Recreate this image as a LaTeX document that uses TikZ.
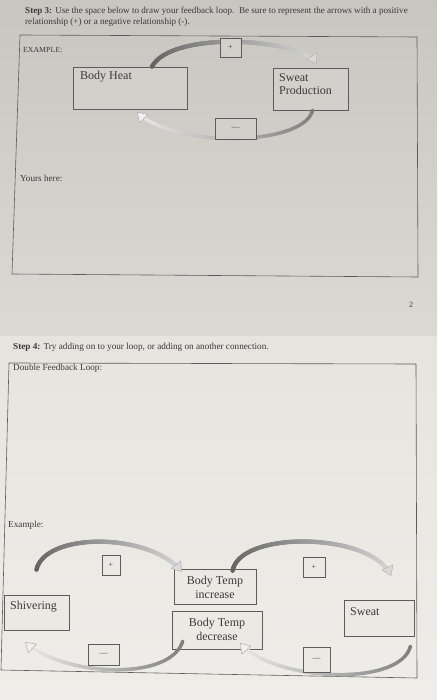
\documentclass[tikz,border=0pt]{standalone}
\usepackage{fontspec}
\setmainfont{Liberation Serif}
\usetikzlibrary{arrows.meta,calc,decorations.markings}
\definecolor{ink}{HTML}{3C3A38}
\definecolor{frame}{HTML}{5E5C5A}
\definecolor{papertopA}{HTML}{C9C5C1}
\definecolor{papertopB}{HTML}{DCD8D3}
\definecolor{paperbotA}{HTML}{E7E4DF}
\definecolor{paperbotB}{HTML}{EFEDE9}
\definecolor{boxtop}{HTML}{D3CFCA}
\definecolor{boxbot}{HTML}{ECE9E5}
% arrow head: #1 tip, #2 second control point, #3 style
\newcommand\fbhead[3]{%
  \filldraw[#3] (#1) -- ($(#1)!9pt!(#2)!6pt!90:(#1)$) -- ($(#1)!9pt!(#2)!6pt!-90:(#1)$) -- cycle;}
\begin{document}
\begin{tikzpicture}[x=1pt,y=-1pt,
  txt/.style={text=ink, inner sep=0pt, anchor=base west},
  boxtxt/.style={txt, font=\fontsize{12}{14}\selectfont},
  panel/.style={draw=frame, line width=0.6pt},
  box/.style={draw=frame, line width=0.7pt, inner sep=0pt},
  sign/.style={box, text=ink, font=\fontsize{8}{9}\selectfont},
  headdark/.style={fill=gray!30, draw=gray!60, line width=0.5pt, line join=round},
  headlight/.style={fill=white!88!gray, draw=gray!65, line width=0.5pt, line join=round},
  fb/.style={draw=none,
    postaction={decorate, decoration={markings,
      mark=between positions 0 and 0.955 step 0.8pt with {
        \pgfmathsetmacro\gv{int(62-46*\pgfkeysvalueof{/pgf/decoration/mark info/distance from start}/\pgfdecoratedpathlength)}
        \fill[black!\gv] (0,0) circle (2.2pt);}}}},
  fbl/.style={draw=none,
    postaction={decorate, decoration={markings,
      mark=between positions 0 and 0.955 step 0.8pt with {
        \pgfmathsetmacro\gv{int(52-44*\pgfkeysvalueof{/pgf/decoration/mark info/distance from start}/\pgfdecoratedpathlength)}
        \fill[black!\gv] (0,0) circle (1.9pt);}}}}
]
\useasboundingbox (0,0) rectangle (437,700);
% paper
\shade[top color=papertopA, bottom color=papertopB] (0,0) rectangle (437,336);
\shade[top color=paperbotA, bottom color=paperbotB] (0,336) rectangle (437,700);

% ---------- Step 3 ----------
\node[txt, font=\fontsize{9.1}{10}\selectfont] (s3a) at (25,14) {\textbf{Step 3:} Use the space below to draw your feedback loop.\ \ Be sure to represent the arrows with a positive};
\node[txt, font=\fontsize{9.1}{10}\selectfont] (s3b) at (25,25) {relationship (+) or a negative relationship (-).};

\draw[panel] (20,35) -- (417,37) -- (418,277) -- (12,274) -- cycle;
\node[txt, font=\fontsize{7.8}{9}\selectfont] (ex1) at (23,53) {EXAMPLE:};

\node[box, fill=boxtop, minimum width=114pt, minimum height=42pt] (bh) at (130,88) {};
\node[boxtxt] (bht) at (80,80) {Body Heat};
\node[box, fill=boxtop, minimum width=75pt, minimum height=42pt] (sp) at (310.5,89) {};
\node[boxtxt] (spa) at (279,82) {Sweat};
\node[boxtxt] (spb) at (279,95) {Production};

\coordinate (bhTop) at ($(bh.north)+(22,0)$);
\coordinate (spTop) at ($(sp.north west)+(44,-4)$);
\coordinate (spBot) at ($(sp.south)+(2,0)$);
\coordinate (bhBot) at ($(bh.south east)+(-50,3)$);
\coordinate (c1) at (300,38);
\coordinate (c2) at (175,149);
\draw[fb] (bhTop) .. controls (172,30) and (c1) .. (spTop);
\fbhead{spTop}{c1}{headdark}
\draw[fbl] (spBot) .. controls (304,146) and (c2) .. (bhBot);
\fbhead{bhBot}{c2}{headlight}

\node[sign, fill=boxtop, minimum width=21pt, minimum height=19pt] (p1) at (230.5,47.5) {+};
\node[sign, fill=boxtop, minimum width=41pt, minimum height=21pt] (m1) at (235.5,128.5) {\raisebox{1pt}{---}};

\node[txt, font=\fontsize{9.2}{10}\selectfont] (yh) at (20,182) {Yours here:};
\node[txt, font=\fontsize{8}{9}\selectfont] (pg) at (409,307) {2};

% ---------- Step 4 ----------
\node[txt, font=\fontsize{9.2}{10}\selectfont] (s4) at (13,349) {\textbf{Step 4:} Try adding on to your loop, or adding on another connection.};
\draw[panel] (9,363) -- (416,364) -- (417,678) -- (1,670) -- cycle;
\node[txt, font=\fontsize{9.2}{10}\selectfont] (dfl) at (13,370) {Double Feedback Loop:};
\node[txt, font=\fontsize{9.2}{10}\selectfont] (ex2) at (8,527) {Example:};

\node[box, fill=boxbot, minimum width=65pt, minimum height=35pt] (shiv) at (36.5,612.5) {};
\node[boxtxt] (shivt) at (10,609) {Shivering};
\node[box, fill=boxbot, minimum width=70pt, minimum height=36pt] (sw) at (379,618) {};
\node[boxtxt] (swt) at (350,615) {Sweat};
\node[box, fill=boxbot, minimum width=82pt, minimum height=35pt] (bti) at (215,586.5) {};
\node[boxtxt, anchor=base] (btia) at (215,584) {Body Temp};
\node[boxtxt, anchor=base] (btib) at (215,598) {increase};
\node[box, fill=boxbot, minimum width=90pt, minimum height=38pt] (btd) at (217,630) {};
\node[boxtxt, anchor=base] (btda) at (217,626) {Body Temp};
\node[boxtxt, anchor=base] (btdb) at (217,640) {decrease};

\coordinate (shA) at ($(shiv.north)+(0,-25)$);
\coordinate (btiA) at ($(bti.north west)+(8,3)$);
\coordinate (btiB) at ($(bti.north west)+(59,2)$);
\coordinate (swA) at ($(sw.north)+(12,-24)$);
\coordinate (swB) at ($(sw.south east)+(-4,10)$);
\coordinate (btdB) at ($(btd.south east)+(-22,-6)$);
\coordinate (btdA) at ($(btd.south west)+(11,-8)$);
\coordinate (shB) at ($(shiv.south west)+(22,12)$);
\coordinate (c3) at (150,532);
\coordinate (c4) at (372,532);
\coordinate (c5) at (62,676);
\coordinate (c6) at (275,682);

\draw[fb] (shA) .. controls (45,532) and (c3) .. (btiA);
\fbhead{btiA}{c3}{headdark}
\draw[fb] (btiB) .. controls (240,530) and (c4) .. (swA);
\fbhead{swA}{c4}{headdark}
\draw[fbl] (btdA) .. controls (170,682) and (c5) .. (shB);
\fbhead{shB}{c5}{headlight}
\draw[fbl] (swB) .. controls (400,687) and (c6) .. (btdB);
\fbhead{btdB}{c6}{headlight}

\node[sign, fill=boxbot, minimum width=18pt, minimum height=20pt] (p2) at (111,565) {+};
\node[sign, fill=boxbot, minimum width=22pt, minimum height=20pt] (p3) at (314,567) {+};
\node[sign, fill=boxbot, minimum width=31pt, minimum height=21pt] (m2) at (103.5,654.5) {---};
\node[sign, fill=boxbot, minimum width=27pt, minimum height=25pt] (m3) at (316.5,659.5) {---};
\end{tikzpicture}
\end{document}
